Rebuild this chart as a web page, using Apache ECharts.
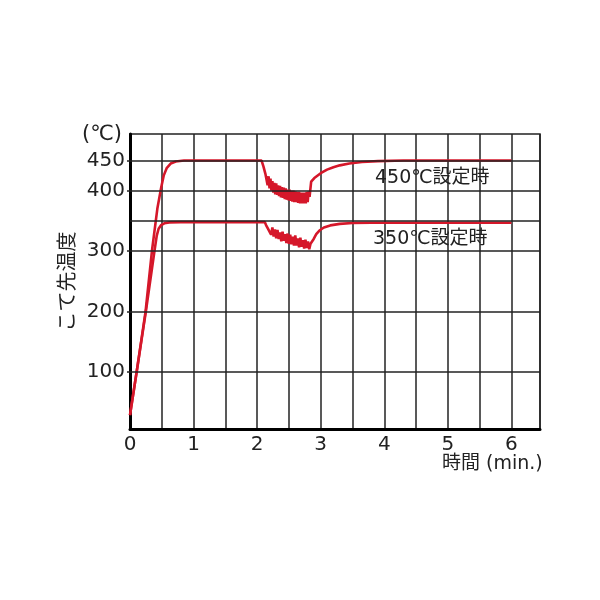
<!DOCTYPE html>
<html>
<head>
<meta charset="utf-8">
<script src="https://cdn.jsdelivr.net/npm/echarts@6/dist/echarts.min.js"></script>
<style>
  html, body { margin: 0; padding: 0; background: #fff; }
  #main { width: 600px; height: 600px; }
</style>
</head>
<body>
<div id="main"></div>
<script>
// time (min.) / temperature (deg C)
var time450 = [0, 0.105, 0.245, 0.345, 0.43, 0.49, 0.53, 0.58, 0.64, 0.72, 0.85, 2.07, 2.10, 2.13,
  2.150, 2.165, 2.180, 2.195, 2.210, 2.225, 2.240, 2.255, 2.270, 2.285, 2.300, 2.315, 2.330, 2.345,
  2.360, 2.375, 2.390, 2.405, 2.420, 2.435, 2.450, 2.465, 2.480, 2.495, 2.510, 2.525, 2.540, 2.555,
  2.570, 2.585, 2.600, 2.615, 2.630, 2.645, 2.660, 2.675, 2.690, 2.705, 2.720, 2.735, 2.750, 2.765,
  2.780, 2.795, 2.810, 2.825, 2.85, 2.90, 3.00, 3.10, 3.20, 3.30, 3.45, 3.65, 3.90, 4.30, 6.00];
var temp450 = [28, 100, 200, 300, 370, 405, 425, 438, 445, 448.5, 450, 450, 440, 428,
  427, 409, 424, 404, 420, 400, 416, 397, 413, 394, 412, 393, 409, 391,
  408, 389, 406, 388, 405, 386, 404, 385, 402, 384, 402, 383, 400, 382,
  400, 381, 399, 381, 398, 380, 398, 379, 397, 379, 397, 379, 397, 379,
  398, 381, 399, 390, 415, 421, 429, 435, 439, 442, 445, 447.5, 449, 450, 450];

var time350 = [0, 0.105, 0.25, 0.385, 0.42, 0.45, 0.49, 0.54, 0.62, 0.80, 2.12, 2.14, 2.17,
  2.20, 2.22, 2.24, 2.26, 2.28, 2.30, 2.32, 2.34, 2.36, 2.38, 2.40, 2.42, 2.44, 2.46, 2.48,
  2.50, 2.52, 2.54, 2.56, 2.58, 2.60, 2.62, 2.64, 2.66, 2.68, 2.70, 2.72, 2.74, 2.76, 2.78,
  2.80, 2.82, 2.84, 2.86, 2.89, 2.93, 2.98, 3.05, 3.15, 3.30, 3.50, 3.80, 6.00];
var temp350 = [28, 100, 200, 300, 325, 337, 343, 346, 347.5, 348, 348, 343, 337,
  340, 327, 339, 324, 336, 321, 335, 320, 331, 316, 332, 317, 328, 313, 329,
  312, 327, 311, 324, 309, 326, 309, 321, 306, 322, 307, 318, 304, 319, 305,
  316, 303, 312, 314, 320, 328, 334, 339, 342.5, 345, 346.5, 347, 347];

var xTicks = [0, 1, 2, 3, 4, 5, 6];
var yTicks = [100, 200, 300, 400, 450];
var gridY = [100, 200, 300, 350, 400, 450];

var zip = function(xs, ys) {
  return xs.map(function(x, i) { return [x, ys[i]]; });
};

var red = '#d5172a';
var ink = '#222';
var numFont = 'DejaVu Sans, Noto Sans CJK JP';
var jpFont = 'Noto Sans CJK JP';

var myChart = echarts.init(document.getElementById('main'));

var option = {
  animation: false,
  backgroundColor: '#fff',
  grid: {
    left: 130, right: 60, top: 134, bottom: 171,
    show: true, borderColor: ink, borderWidth: 1.5
  },
  xAxis: {
    type: 'value',
    min: 0,
    max: 6.45,
    interval: 0.5,
    axisLine: { lineStyle: { color: '#000', width: 3 } },
    axisTick: { show: false },
    axisLabel: {
      color: ink, fontSize: 20, fontFamily: numFont, margin: 6,
      formatter: function(v) { return xTicks.indexOf(v) >= 0 ? String(v) : ''; }
    },
    splitLine: { show: true, lineStyle: { color: ink, width: 1.5 } }
  },
  yAxis: {
    type: 'value',
    min: 5,
    max: 494,
    name: 'こて先温度',
    nameLocation: 'middle',
    nameRotate: 90,
    nameGap: 52,
    nameTextStyle: { color: ink, fontSize: 20, fontFamily: jpFont },
    axisLine: { show: true, lineStyle: { color: '#000', width: 3 } },
    axisTick: { show: true, length: 3, customValues: yTicks, lineStyle: { color: ink, width: 1.5 } },
    axisLabel: {
      color: ink, fontSize: 20, fontFamily: numFont, margin: 5,
      customValues: yTicks
    },
    splitLine: { show: false }
  },
  graphic: [
    { type: 'text', left: 82, top: 124, style: { text: '(℃)', fontSize: 21, fontFamily: numFont, fill: ink } },
    { type: 'text', left: 442, top: 455, style: { text: '時間 (min.)', fontSize: 19, fontFamily: numFont, fill: ink } },
    { type: 'text', left: 375, top: 169, style: { text: '450℃設定時', fontSize: 19, fontFamily: numFont, fill: ink } },
    { type: 'text', left: 373, top: 230, style: { text: '350℃設定時', fontSize: 19, fontFamily: numFont, fill: ink } }
  ],
  series: [
    {
      name: 'grid',
      type: 'line',
      data: [],
      z: 1,
      silent: true,
      markLine: {
        silent: true,
        symbol: 'none',
        animation: false,
        label: { show: false },
        lineStyle: { color: ink, width: 1.5, type: 'solid' },
        data: gridY.map(function(v) { return { yAxis: v }; })
      }
    },
    {
      name: '450℃設定時',
      type: 'line',
      data: zip(time450, temp450),
      showSymbol: false,
      z: 3,
      lineStyle: { color: red, width: 2.6 }
    },
    {
      name: '350℃設定時',
      type: 'line',
      data: zip(time350, temp350),
      showSymbol: false,
      z: 3,
      lineStyle: { color: red, width: 2.6 }
    }
  ]
};

myChart.setOption(option);
</script>
</body>
</html>
